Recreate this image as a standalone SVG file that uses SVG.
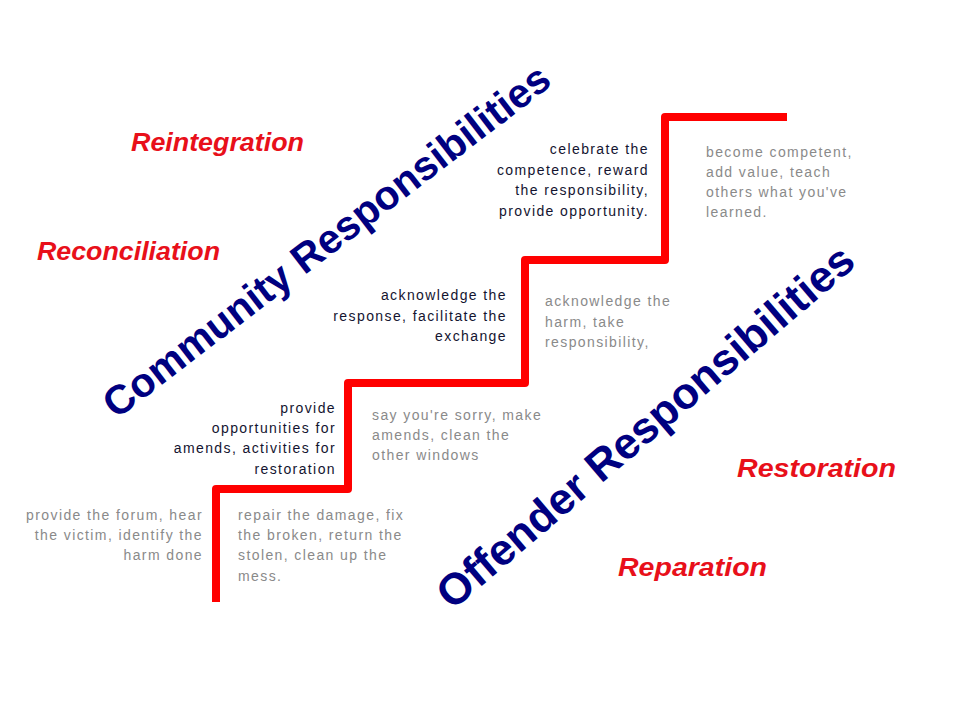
<svg xmlns="http://www.w3.org/2000/svg" width="960" height="720" viewBox="0 0 960 720">
<style>
.t{font-family:"Liberation Sans",Arial,sans-serif;font-size:14px;letter-spacing:1.4px}
.g{fill:#8a8a8a}
.k{fill:#141430}
.r{text-anchor:end}
.lab{font-family:"Liberation Sans",Arial,sans-serif;font-size:26px;font-weight:bold;font-style:italic;fill:#e8101a}
.big{font-family:"Liberation Sans",Arial,sans-serif;font-weight:bold;fill:#000080;text-anchor:middle}
</style>
<rect width="960" height="720" fill="#ffffff"/>
<g id="connectors">
<path d="M216,602 V489 H348 V383 H525 V260 H665 V117 H787" fill="none" stroke="#ff0000" stroke-width="8" stroke-linejoin="round"/>
</g>
<g id="community-title"><text class="big" font-size="41" transform="translate(335,252) rotate(-37.5)">Community Responsibilities</text></g>
<g id="offender-title"><text class="big" font-size="44" transform="translate(655,438) rotate(-40.5)">Offender Responsibilities</text></g>
<g id="reintegration"><text class="lab" x="131" y="151" textLength="173" lengthAdjust="spacingAndGlyphs">Reintegration</text></g>
<g id="reconciliation"><text class="lab" x="37" y="260" textLength="183" lengthAdjust="spacingAndGlyphs">Reconciliation</text></g>
<g id="restoration"><text class="lab" x="737" y="477" textLength="159" lengthAdjust="spacingAndGlyphs">Restoration</text></g>
<g id="reparation"><text class="lab" x="618" y="576" textLength="149" lengthAdjust="spacingAndGlyphs">Reparation</text></g>
<g id="step1-community"><text class="t g r" x="203"><tspan x="203" y="520">provide the forum, hear</tspan><tspan x="203" y="540">the victim, identify the</tspan><tspan x="203" y="560">harm done</tspan></text></g>
<g id="step1-offender"><text class="t g" x="238"><tspan x="238" y="520">repair the damage, fix</tspan><tspan x="238" y="540">the broken, return the</tspan><tspan x="238" y="560">stolen, clean up the</tspan><tspan x="238" y="581">mess.</tspan></text></g>
<g id="step2-community"><text class="t k r" x="336"><tspan x="336" y="413">provide</tspan><tspan x="336" y="433">opportunities for</tspan><tspan x="336" y="453">amends, activities for</tspan><tspan x="336" y="474">restoration</tspan></text></g>
<g id="step2-offender"><text class="t g" x="372"><tspan x="372" y="420">say you're sorry, make</tspan><tspan x="372" y="440">amends, clean the</tspan><tspan x="372" y="460">other windows</tspan></text></g>
<g id="step3-community"><text class="t k r" x="507"><tspan x="507" y="300">acknowledge the</tspan><tspan x="507" y="321">response, facilitate the</tspan><tspan x="507" y="341">exchange</tspan></text></g>
<g id="step3-offender"><text class="t g" x="545"><tspan x="545" y="306">acknowledge the</tspan><tspan x="545" y="327">harm, take</tspan><tspan x="545" y="347">responsibility,</tspan></text></g>
<g id="step4-community"><text class="t k r" x="649"><tspan x="649" y="154">celebrate the</tspan><tspan x="649" y="175">competence, reward</tspan><tspan x="649" y="195">the responsibility,</tspan><tspan x="649" y="216">provide opportunity.</tspan></text></g>
<g id="step4-offender"><text class="t g" x="706"><tspan x="706" y="157">become competent,</tspan><tspan x="706" y="177">add value, teach</tspan><tspan x="706" y="197">others what you've</tspan><tspan x="706" y="217">learned.</tspan></text></g>
</svg>
